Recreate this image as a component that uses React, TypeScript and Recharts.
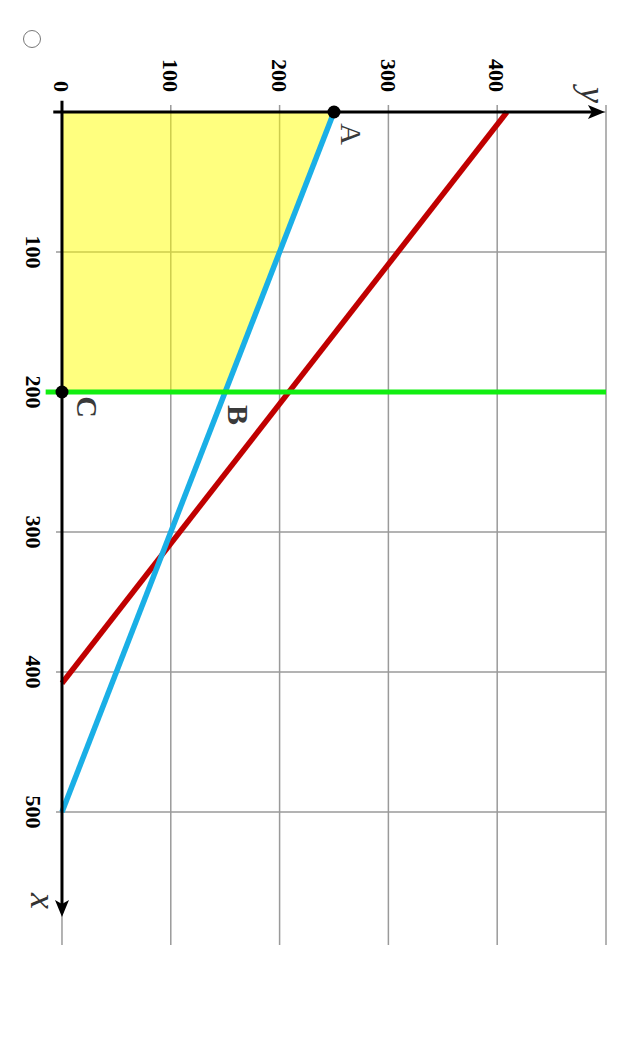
import { ComposedChart, Line, Area, XAxis, YAxis, CartesianGrid, ReferenceLine, ReferenceDot } from "recharts";

const xTicks = [0, 100, 200, 300, 400, 500];
const yTicks = [0, 100, 200, 300, 400, 500];
const xDomain = [-5, 595];
const yDomain = [-5.5, 500];

// constraint lines (x on the downward axis, y on the right-hand axis)
const blueLine = [{ x: 0, y: 250 }, { x: 500, y: 0 }];
const redLine = [{ x: 0, y: 409 }, { x: 408, y: 0 }];
const feasible = [{ x: 0, y: 250 }, { x: 200, y: 150 }];
const greenX = 200;
const greenSpan = [-15, 500];

const pointA = { name: "A", x: 0, y: 250 };
const pointB = { name: "B", x: 200, y: 150 };
const pointC = { name: "C", x: 200, y: 0 };

const xAxisSpan = [-8, 575];
const yAxisSpan = [-8, 499];

const serif = "'Liberation Serif', 'Times New Roman', serif";

function Arrow(props: any) {
  const { x1, y1, x2, y2 } = props;
  const len = Math.hypot(x2 - x1, y2 - y1) || 1;
  const ux = (x2 - x1) / len;
  const uy = (y2 - y1) / len;
  const bx = x2 - ux * 17;
  const by = y2 - uy * 17;
  const px = -uy * 7;
  const py = ux * 7;
  return (
    <g>
      <line x1={x1} y1={y1} x2={bx + ux * 4} y2={by + uy * 4} stroke="#000" strokeWidth={3} />
      <polygon
        points={`${x2},${y2} ${bx + px},${by + py} ${bx + ux * 4},${by + uy * 4} ${bx - px},${by - py}`}
        fill="#000"
      />
    </g>
  );
}

function PointLabel({ viewBox, value, dx, dy, bold }: any) {
  const cx = viewBox.x + viewBox.width / 2;
  const cy = viewBox.y + viewBox.height / 2;
  return (
    <text
      x={cx + dx}
      y={cy + dy}
      textAnchor="middle"
      dominantBaseline="central"
      fontFamily={serif}
      fontSize={30}
      fontWeight={bold ? "bold" : "normal"}
      fill="#3a3a3a"
    >
      {value}
    </text>
  );
}

function AxisName({ viewBox, value, dx, dy }: any) {
  return (
    <text
      x={viewBox.x + dx}
      y={viewBox.y + dy}
      textAnchor="middle"
      dominantBaseline="central"
      fontFamily={serif}
      fontStyle="italic"
      fontSize={36}
      fill="#333"
    >
      {value}
    </text>
  );
}

export default function App() {
  const tick = { fill: "#000", fontSize: 22, fontWeight: "bold", fontFamily: serif };
  return (
    <div style={{ position: "absolute", left: 0, top: 0, width: 627, height: 1054, overflow: "hidden", background: "#fff" }}>
      <div
        style={{
          position: "absolute",
          left: 23,
          top: 30,
          width: 16,
          height: 16,
          border: "1.5px solid #777",
          borderRadius: "50%",
        }}
      />
      <div
        style={{
          position: "absolute",
          left: 0,
          top: 0,
          width: 1000,
          height: 627,
          transformOrigin: "0 0",
          transform: "translate(627px, 0) rotate(90deg)",
        }}
      >
        <ComposedChart width={1000} height={627} margin={{ top: 21, right: 55, bottom: 0, left: 0 }}>
          <Area
            data={feasible}
            dataKey="y"
            type="linear"
            baseValue={0}
            fill="#ffff00"
            fillOpacity={0.5}
            stroke="none"
            isAnimationActive={false}
          />
          <CartesianGrid
            stroke="#9a9a9a"
            strokeWidth={1.5}
            horizontalValues={yTicks}
            verticalValues={xTicks}
          />
          <XAxis
            dataKey="x"
            type="number"
            domain={xDomain}
            ticks={xTicks}
            allowDataOverflow
            height={56}
            axisLine={false}
            tickLine={false}
            tickSize={0}
            tickMargin={14}
            tick={tick}
            tickFormatter={(v: number) => (v === 0 ? "" : String(v))}
            label={<AxisName value="x" dx={796} dy={13} />}
          />
          <YAxis
            type="number"
            domain={yDomain}
            ticks={yTicks}
            allowDataOverflow
            width={105}
            axisLine={false}
            tickLine={false}
            tickSize={0}
            tickMargin={13}
            tick={tick}
            tickFormatter={(v: number) => (v === 500 ? "" : String(v))}
            label={<AxisName value="y" dx={95} dy={13} />}
          />
          <Line data={redLine} dataKey="y" type="linear" stroke="#c00000" strokeWidth={5.5} dot={false} isAnimationActive={false} />
          <Line data={blueLine} dataKey="y" type="linear" stroke="#1aafe6" strokeWidth={5.5} dot={false} isAnimationActive={false} />
          <ReferenceLine
            segment={[{ x: greenX, y: greenSpan[0] }, { x: greenX, y: greenSpan[1] }]}
            stroke="#11ee11"
            strokeWidth={5}
            ifOverflow="visible"
          />
          <ReferenceLine
            segment={[{ x: 0, y: yAxisSpan[0] }, { x: 0, y: yAxisSpan[1] }]}
            ifOverflow="visible"
            shape={<Arrow />}
          />
          <ReferenceLine
            segment={[{ x: xAxisSpan[0], y: 0 }, { x: xAxisSpan[1], y: 0 }]}
            ifOverflow="visible"
            shape={<Arrow />}
          />
          <ReferenceDot
            x={pointA.x}
            y={pointA.y}
            r={6.5}
            fill="#000"
            stroke="none"
            ifOverflow="visible"
            label={<PointLabel value={pointA.name} dx={22} dy={-17} />}
          />
          <ReferenceDot
            x={pointB.x}
            y={pointB.y}
            r={0}
            fill="none"
            stroke="none"
            ifOverflow="visible"
            label={<PointLabel value={pointB.name} dx={23} dy={-13} bold />}
          />
          <ReferenceDot
            x={pointC.x}
            y={pointC.y}
            r={6.5}
            fill="#000"
            stroke="none"
            ifOverflow="visible"
            label={<PointLabel value={pointC.name} dx={15} dy={-26} bold />}
          />
        </ComposedChart>
      </div>
    </div>
  );
}
